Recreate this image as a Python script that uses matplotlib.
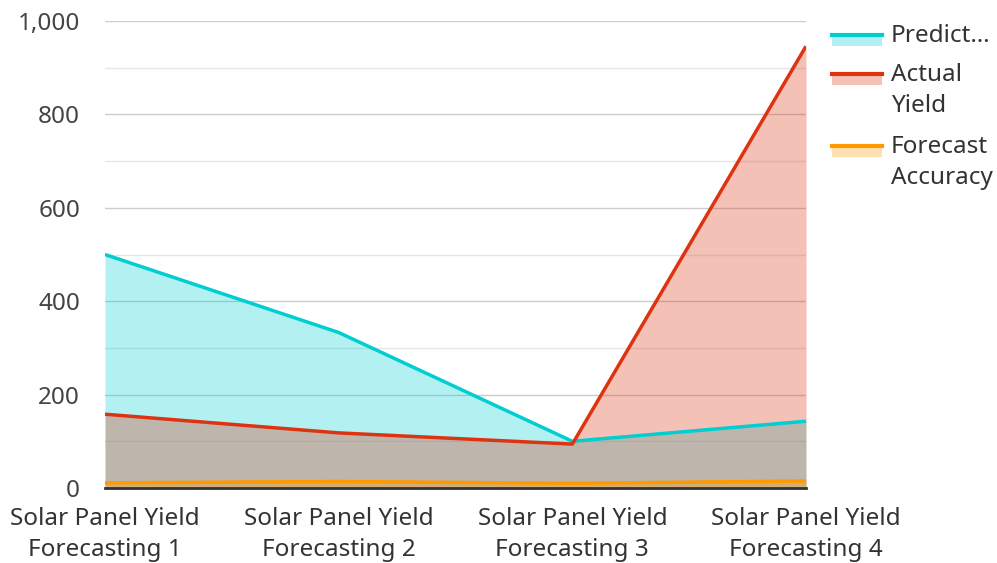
import matplotlib.pyplot as plt
from matplotlib.patches import Rectangle
from matplotlib.lines import Line2D
from matplotlib.ticker import MultipleLocator, FuncFormatter

plt.rcParams['font.family'] = ['Noto Sans', 'DejaVu Sans']

categorias = ["Solar Panel Yield\nForecasting 1", "Solar Panel Yield\nForecasting 2",
              "Solar Panel Yield\nForecasting 3", "Solar Panel Yield\nForecasting 4"]
previsto = [500, 333, 100, 143]
real = [158, 118, 94, 946]
precisao = [11, 14, 10, 15]

series = [
    ("Predict…", previsto, "#00CED1"),
    ("Actual\nYield", real, "#DD3311"),
    ("Forecast\nAccuracy", precisao, "#FF9900"),
]

fig = plt.figure(figsize=(9.97, 5.63), dpi=100)
ax = fig.add_axes([105 / 997, 75 / 563, 701 / 997, 467 / 563])

x = list(range(len(categorias)))
for nome, valores, cor in series:
    ax.fill_between(x, valores, 0, color=cor, alpha=0.3, linewidth=0)
    ax.plot(x, valores, color=cor, linewidth=2.5, solid_capstyle="butt")

ax.set_xlim(0, 3)
ax.set_ylim(0, 1000)
ax.yaxis.set_major_locator(MultipleLocator(200))
ax.yaxis.set_minor_locator(MultipleLocator(100))
ax.yaxis.set_major_formatter(FuncFormatter(lambda v, p: f"{int(v):,}"))
ax.grid(axis="y", which="major", color="#cccccc", linewidth=1)
ax.grid(axis="y", which="minor", color="#e6e6e6", linewidth=1)
ax.set_axisbelow(True)

ax.set_xticks(x)
ax.set_xticklabels(categorias, fontsize=17.5, color="#333333", linespacing=1.35)
ax.tick_params(axis="x", length=0, pad=14)
ax.tick_params(axis="y", which="both", length=0, pad=18, labelsize=17.5, labelcolor="#444444")
for lado in ["left", "right", "top"]:
    ax.spines[lado].set_visible(False)
ax.spines["bottom"].set_color("#333333")
ax.spines["bottom"].set_linewidth(2)

# legenda desenhada à mão, em pixels da figura
W, H = 997, 563
linhas_y = [35, 74, 146]
for (nome, valores, cor), y in zip(series, linhas_y):
    fig.patches.append(Rectangle((832 / W, 1 - (y + 11) / H), 50 / W, 11 / H,
                                 transform=fig.transFigure, color=cor, alpha=0.3, linewidth=0))
    fig.lines.append(Line2D([832 / W, 882 / W], [1 - y / H, 1 - y / H],
                            transform=fig.transFigure, color=cor, linewidth=3))
    for i, parte in enumerate(nome.split("\n")):
        fig.text(891 / W, 1 - (y + 1 + i * 31) / H, parte, fontsize=17.5, color="#333333",
                 va="center", ha="left")

fig.savefig("out.png", dpi=100)
